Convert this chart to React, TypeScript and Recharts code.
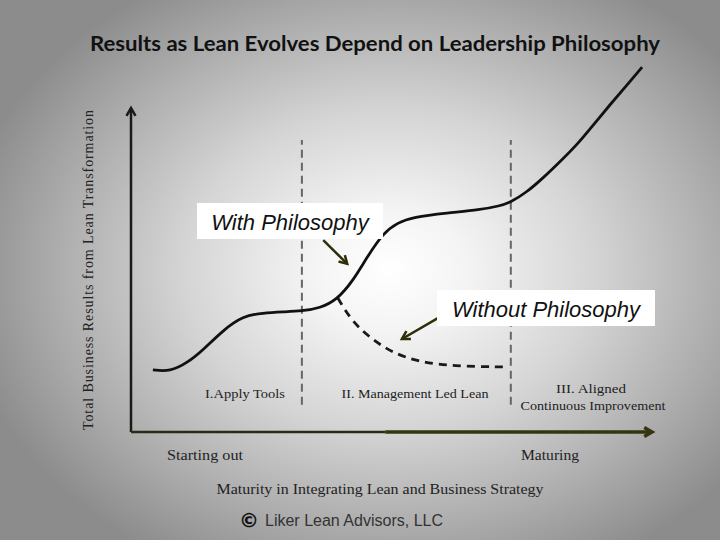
import React from 'react';
import { LineChart, Line, XAxis, YAxis, ReferenceLine } from 'recharts';

// "With Philosophy" curve (x = maturity, y = results)
const solidX = [4.2, 7.5, 10.8, 13.8, 17.7, 21.5, 25.3, 29.2, 32.8, 36.3, 39.5, 42.6, 45.3, 48.4, 51.1, 54.1, 60.7, 67.0, 70.8, 72.7, 76.0, 79.1, 82.3, 85.6, 88.7, 91.9, 95.2, 98.1];
const solidY = [16.7, 16.2, 18.6, 22.0, 27.4, 31.2, 32.0, 32.3, 32.5, 33.3, 35.5, 40.6, 47.0, 53.5, 56.2, 57.8, 58.9, 59.7, 60.8, 61.6, 64.5, 68.3, 72.6, 77.2, 82.5, 87.9, 93.3, 98.1];
// "Without Philosophy" curve
const dashX = [39.7, 42.6, 46.5, 50.3, 55.5, 61.8, 71.4];
const dashY = [36.0, 29.3, 24.7, 21.2, 18.8, 17.7, 17.5];
// phase boundaries
const phaseX = [32.8, 72.9];
const phaseTop = 78.5;
const phaseBottom = 7.3;
const yAxisTop = 87.1;

const withData = solidX.map((x, i) => ({ x, y: solidY[i] }));
const withoutData = dashX.map((x, i) => ({ x, y: dashY[i] }));

const title = 'Results as Lean Evolves Depend on Leadership Philosophy';
const yLabel = 'Total Business Results from Lean Transformation';
const xLabel = 'Maturity in Integrating Lean and Business Strategy';
const phaseLabels = ['I.Apply Tools', 'II. Management Led Lean'];
const phase3 = ['III. Aligned', 'Continuous Improvement'];

const arrowHead = (x1: number, y1: number, x2: number, y2: number, len: number, color: string, w: number) => {
  const a = Math.atan2(y2 - y1, x2 - x1);
  const s = Math.PI / 6;
  const p1 = [x2 - len * Math.cos(a - s), y2 - len * Math.sin(a - s)];
  const p2 = [x2 - len * Math.cos(a + s), y2 - len * Math.sin(a + s)];
  return (
    <polyline
      points={`${p1[0]},${p1[1]} ${x2},${y2} ${p2[0]},${p2[1]}`}
      fill="none"
      stroke={color}
      strokeWidth={w}
    />
  );
};

const makeArrow = (color: string, w: number, len: number) => (props: any) => {
  const { x1, y1, x2, y2 } = props;
  return (
    <g>
      <line x1={x1} y1={y1} x2={x2} y2={y2} stroke={color} strokeWidth={w} />
      {arrowHead(x1, y1, x2, y2, len, color, w)}
    </g>
  );
};

const plainLine = (color: string, w: number) => (props: any) => {
  const { x1, y1, x2, y2 } = props;
  return <line x1={x1} y1={y1} x2={x2} y2={y2} stroke={color} strokeWidth={w} />;
};

const serif = "'Liberation Serif', serif";

export default function App() {
  return (
    <div
      style={{
        position: 'absolute',
        left: 0,
        top: 0,
        width: 720,
        height: 540,
        background:
          'radial-gradient(ellipse 60% 62% at 54% 50%, #ffffff 0%, #f4f4f4 18%, #d4d4d4 48%, #ababab 78%, #8c8c8c 100%)',
      }}
    >
      <LineChart
        width={720}
        height={540}
        margin={{ top: 60, right: 68, bottom: 108, left: 131 }}
        style={{ position: 'absolute', left: 0, top: 0 }}
      >
        <XAxis type="number" dataKey="x" domain={[0, 100]} hide allowDataOverflow />
        <YAxis type="number" dataKey="y" domain={[0, 100]} hide allowDataOverflow />
        {phaseX.map((px) => (
          <ReferenceLine
            key={px}
            segment={[{ x: px, y: phaseBottom }, { x: px, y: phaseTop }]}
            stroke="#666"
            strokeWidth={2}
            strokeDasharray="8 5"
          />
        ))}
        <ReferenceLine
          segment={[{ x: 0, y: 0 }, { x: 0, y: yAxisTop }]}
          shape={makeArrow('#1a1a1a', 2.5, 9)}
        />
        <ReferenceLine
          segment={[{ x: 0, y: 0 }, { x: 48.8, y: 0 }]}
          shape={plainLine('#2a2a1a', 2.5)}
        />
        <ReferenceLine
          segment={[{ x: 48.8, y: 0 }, { x: 100, y: 0 }]}
          shape={makeArrow('#35350f', 3.5, 9)}
        />
        <Line
          data={withoutData}
          dataKey="y"
          type="basis"
          stroke="#1a1a1a"
          strokeWidth={2.8}
          strokeDasharray="8 6"
          dot={false}
          isAnimationActive={false}
        />
        <Line
          data={withData}
          dataKey="y"
          type="basis"
          stroke="#111"
          strokeWidth={2.8}
          dot={false}
          isAnimationActive={false}
        />
        <ReferenceLine
          segment={[{ x: 36.9, y: 51.6 }, { x: 41.5, y: 45.2 }]}
          shape={makeArrow('#2e2e08', 2.5, 9)}
        />
        <ReferenceLine
          segment={[{ x: 58.9, y: 30.6 }, { x: 52.0, y: 25.0 }]}
          shape={makeArrow('#2e2e08', 2.5, 9)}
        />
      </LineChart>
      <svg
        width={720}
        height={540}
        style={{ position: 'absolute', left: 0, top: 0, pointerEvents: 'none' }}
      >
        <text
          x={375}
          y={51}
          textAnchor="middle"
          fontFamily="Lato, 'Open Sans', sans-serif"
          fontWeight={700}
          fontSize={20}
          fill="#111"
          textLength={570}
          lengthAdjust="spacingAndGlyphs"
        >
          {title}
        </text>
        <text
          transform="translate(93,270) rotate(-90)"
          textAnchor="middle"
          fontFamily={serif}
          fontSize={14}
          fill="#222"
          textLength={320}
          lengthAdjust="spacing"
        >
          {yLabel}
        </text>
        <rect x={197} y={203} width={186} height={36} fill="#fff" />
        <text
          x={290}
          y={230}
          textAnchor="middle"
          fontFamily="'Liberation Sans', Arial, sans-serif"
          fontStyle="italic"
          fontSize={22}
          fill="#111"
        >
          With Philosophy
        </text>
        <rect x={437} y={290} width={218} height={36} fill="#fff" />
        <text
          x={546}
          y={317}
          textAnchor="middle"
          fontFamily="'Liberation Sans', Arial, sans-serif"
          fontStyle="italic"
          fontSize={22}
          fill="#111"
        >
          Without Philosophy
        </text>
        <text x={245} y={398} textAnchor="middle" fontFamily={serif} fontSize={13} fill="#222" textLength={80} lengthAdjust="spacingAndGlyphs">
          {phaseLabels[0]}
        </text>
        <text x={415} y={398} textAnchor="middle" fontFamily={serif} fontSize={13} fill="#222" textLength={147} lengthAdjust="spacingAndGlyphs">
          {phaseLabels[1]}
        </text>
        <text x={591} y={393} textAnchor="middle" fontFamily={serif} fontSize={13} fill="#222" textLength={70} lengthAdjust="spacingAndGlyphs">
          {phase3[0]}
        </text>
        <text x={593} y={410} textAnchor="middle" fontFamily={serif} fontSize={13} fill="#222" textLength={145} lengthAdjust="spacingAndGlyphs">
          {phase3[1]}
        </text>
        <text x={205} y={460} textAnchor="middle" fontFamily={serif} fontSize={15} fill="#222" textLength={76} lengthAdjust="spacingAndGlyphs">
          Starting out
        </text>
        <text x={550} y={460} textAnchor="middle" fontFamily={serif} fontSize={15} fill="#222" textLength={58} lengthAdjust="spacingAndGlyphs">
          Maturing
        </text>
        <text x={380} y={494} textAnchor="middle" fontFamily={serif} fontSize={15} fill="#222" textLength={327} lengthAdjust="spacingAndGlyphs">
          {xLabel}
        </text>
        <text x={249} y={527} textAnchor="middle" fontFamily="'DejaVu Sans', sans-serif" fontWeight={700} fontSize={20} fill="#111">
          ©
        </text>
        <text x={265} y={526} fontFamily="'Liberation Sans', Arial, sans-serif" fontSize={16} fill="#333" textLength={178} lengthAdjust="spacingAndGlyphs">
          Liker Lean Advisors, LLC
        </text>
      </svg>
    </div>
  );
}
